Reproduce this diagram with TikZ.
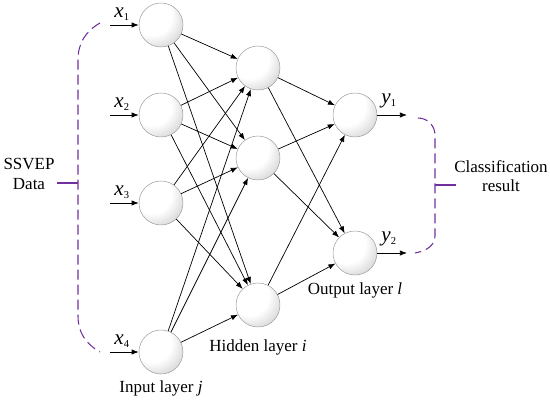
\documentclass[tikz,border=0pt]{standalone}
\usepackage{fontspec}
\setmainfont{Liberation Serif}
\usetikzlibrary{positioning, arrows.meta}
\definecolor{bracepurple}{RGB}{112,48,160}
\pgfdeclareradialshading{sphere}{\pgfpoint{-14bp}{14bp}}{color(0bp)=(white); color(22bp)=(white); color(48bp)=(gray!55); color(64bp)=(gray!85); color(80bp)=(gray!85)}
\tikzset{
	neuron/.style={circle, draw=gray!80, thin, shading=sphere, minimum size=1.32cm},
	link/.style={-{Latex[length=6pt, width=4.5pt]}, line width=0.6pt},
	brace/.style={bracepurple, dash pattern=on 0.3cm off 0.15cm, line width=0.9pt},
	varlabel/.style={font=\fontsize{18}{19}\selectfont, inner sep=0pt},
}

\begin{document}
\begin{tikzpicture}[x=0.03cm, y=-0.03cm, font=\fontsize{14.5}{16.5}\selectfont]
\useasboundingbox (0,0) rectangle (550,400);

%input layer
\foreach \n/\y in {1/25, 2/115, 3/203, 4/352}{
	\node [neuron] at (161,\y) (in\n) {};
	\coordinate (src\n) at (110,\y);
	\draw [link] (src\n) -- (in\n);
	\node [varlabel] at (122,\y-11) (xlab\n) {$\mathit{x}_{\scriptscriptstyle\mathrm{\n}}$};
}
%hidden layer
\foreach \n/\y in {1/68, 2/158, 3/305}
	\node [neuron] at (258,\y) (hid\n) {};
%output layer
\foreach \n/\y in {1/115, 2/253}{
	\node [neuron] at (355,\y) (out\n) {};
	\coordinate (dst\n) at (407,\y);
	\draw [link] (out\n) -- (dst\n);
	\node [varlabel] at (389,\y-14) (ylab\n) {$\mathit{y}_{\scriptscriptstyle\mathrm{\n}}$};
}
%connections
\foreach \a in {1,...,4}
	\foreach \b in {1,...,3}
		\draw [link] (in\a) -- (hid\b);
\foreach \b in {1,...,3}
	\foreach \c in {1,2}
		\draw [link] (hid\b) -- (out\c);

%layer names
\node at (161,388) (inname) {Input layer \textit{j}};
\node at (258,347) (hidname) {Hidden layer \textit{i}};
\node at (355,290) (outname) {Output layer \textit{l}};

%braces
\coordinate (lb top) at (100,23);
\coordinate (lb bot) at (100,352);
\coordinate (lb mid) at (78,183);
\coordinate (lb tip) at (57,183);
\draw [brace] (lb top) to[out=-150, in=90] (78,60) -- (78,316) to[out=-90, in=150] (lb bot);
\draw [brace, solid] (lb tip) -- (lb mid);
\node [align=center] at (29,174) (indata) {SSVEP\\Data};

\coordinate (rb top) at (418,118);
\coordinate (rb bot) at (415,253);
\coordinate (rb mid) at (435,185);
\coordinate (rb tip) at (456,185);
\draw [brace] (rb top) to[out=0, in=90] (435,135) -- (435,236) to[out=-90, in=10] (rb bot);
\draw [brace, solid] (rb mid) -- (rb tip);
\node [align=center] at (501,176) (result) {Classification\\result};

\end{tikzpicture}
\end{document}
